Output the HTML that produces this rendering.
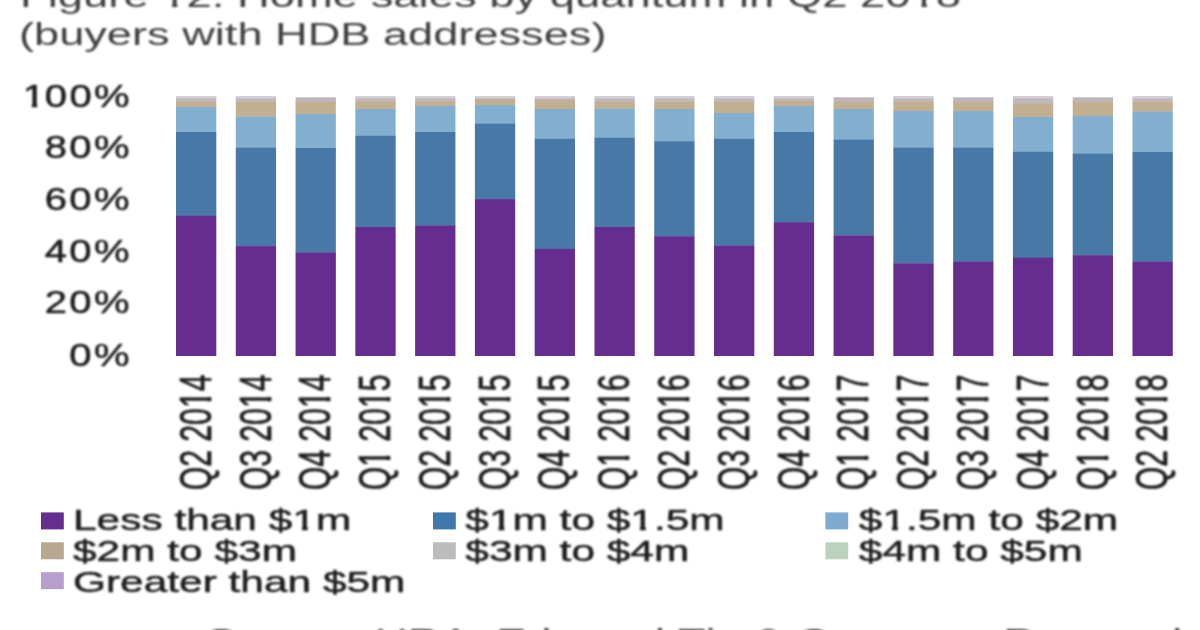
<!DOCTYPE html>
<html lang="en">
<head>
<meta charset="utf-8">
<title>Figure 12: Home sales by quantum in Q2 2018</title>
<style>
html,body{margin:0;padding:0;background:#fff;}
body{width:1200px;height:630px;overflow:hidden;}
svg{display:block;}
text{font-family:"Liberation Sans", Arial, Helvetica, sans-serif;fill:#1c1c1c;font-kerning:none;font-variant-ligatures:none;stroke:#1c1c1c;stroke-width:0.5px;}
.c{fill:#fff;}
</style>
</head>
<body>
<svg width="1200" height="630" viewBox="0 0 1200 630">
<defs><filter id="soft" color-interpolation-filters="sRGB" x="-5%" y="-5%" width="110%" height="110%"><feGaussianBlur stdDeviation="0.8"/></filter><filter id="soft2" color-interpolation-filters="sRGB" x="-5%" y="-5%" width="110%" height="110%"><feGaussianBlur stdDeviation="0.55"/></filter></defs>
<rect x="0" y="0" width="1200" height="630" fill="#ffffff"/>
<g id="title" filter="url(#soft)">
<g transform="translate(20.0,7.0) scale(1.474,1)"><text font-size="30.8" text-anchor="start" style="fill:#3e3e3e;stroke:#3e3e3e;stroke-width:0.01px">Figure 12: Home sales by quantum in Q2 2018</text><rect class="c" x="96.78" y="-4.31" width="6.32" height="6.47"/><rect class="c" x="106.83" y="-4.31" width="5.97" height="6.47"/><rect class="c" x="605.27" y="-4.31" width="6.32" height="6.47"/><rect class="c" x="615.32" y="-4.31" width="5.97" height="6.47"/></g>
<g transform="translate(19.0,45.3) scale(1.467,1)"><text font-size="30.8" text-anchor="start" style="fill:#3e3e3e;stroke:#3e3e3e;stroke-width:0.01px">(buyers with HDB addresses)</text></g>
</g>
<g id="yaxis" filter="url(#soft)">
<g transform="translate(132.0,365.8) scale(1.270,1)"><text font-size="31.5" text-anchor="end" style="letter-spacing:1.9px">0%</text></g>
<g transform="translate(132.0,312.5) scale(1.270,1)"><text font-size="31.5" text-anchor="end" style="letter-spacing:1.9px">20%</text></g>
<g transform="translate(132.0,261.9) scale(1.270,1)"><text font-size="31.5" text-anchor="end" style="letter-spacing:1.9px">40%</text></g>
<g transform="translate(132.0,209.6) scale(1.270,1)"><text font-size="31.5" text-anchor="end" style="letter-spacing:1.9px">60%</text></g>
<g transform="translate(132.0,157.7) scale(1.270,1)"><text font-size="31.5" text-anchor="end" style="letter-spacing:1.9px">80%</text></g>
<g transform="translate(132.0,107.3) scale(1.270,1)"><text x="-88.16" font-size="31.5" text-anchor="start" style="letter-spacing:1.9px"><tspan dx="2.1">1</tspan><tspan dx="-2.1">0</tspan>0%</text><g transform="translate(-86.06,0)"><rect class="c" x="0.94" y="-4.41" width="6.23" height="6.61"/><rect class="c" x="11.45" y="-4.41" width="5.87" height="6.61"/></g></g>
</g>
<g id="bars" filter="url(#soft2)">
<g transform="translate(176.00,0)"><rect x="0" y="96.0" width="40.3" height="2.5" fill="#D3CED8"/><rect x="0" y="98.2" width="40.3" height="3.9" fill="#C0B8BA"/><rect x="0" y="101.8" width="40.3" height="5.5" fill="#C2AF92"/><rect x="0" y="107.0" width="40.3" height="25.3" fill="#82AED0"/><rect x="0" y="132.0" width="40.3" height="84.1" fill="#4878A6"/><rect x="0" y="215.8" width="40.3" height="140.2" fill="#662D91"/></g>
<g transform="translate(235.78,0)"><rect x="0" y="96.0" width="40.3" height="2.5" fill="#D3CED8"/><rect x="0" y="98.2" width="40.3" height="4.1" fill="#C0B8BA"/><rect x="0" y="102.0" width="40.3" height="14.8" fill="#C2AF92"/><rect x="0" y="116.5" width="40.3" height="31.5" fill="#82AED0"/><rect x="0" y="147.7" width="40.3" height="98.7" fill="#4878A6"/><rect x="0" y="246.1" width="40.3" height="109.9" fill="#662D91"/></g>
<g transform="translate(295.56,0)"><rect x="0" y="97.3" width="40.3" height="5.0" fill="#BFB5B8"/><rect x="0" y="102.0" width="40.3" height="12.3" fill="#C2AF92"/><rect x="0" y="114.0" width="40.3" height="34.3" fill="#82AED0"/><rect x="0" y="148.0" width="40.3" height="104.7" fill="#4878A6"/><rect x="0" y="252.4" width="40.3" height="103.6" fill="#662D91"/></g>
<g transform="translate(355.34,0)"><rect x="0" y="96.0" width="40.3" height="2.5" fill="#D3CED8"/><rect x="0" y="98.2" width="40.3" height="3.3" fill="#C0B8BA"/><rect x="0" y="101.2" width="40.3" height="8.1" fill="#C2AF92"/><rect x="0" y="109.0" width="40.3" height="27.1" fill="#82AED0"/><rect x="0" y="135.8" width="40.3" height="91.5" fill="#4878A6"/><rect x="0" y="227.0" width="40.3" height="129.0" fill="#662D91"/></g>
<g transform="translate(415.12,0)"><rect x="0" y="96.0" width="40.3" height="2.5" fill="#D3CED8"/><rect x="0" y="98.2" width="40.3" height="3.3" fill="#C0B8BA"/><rect x="0" y="101.2" width="40.3" height="5.1" fill="#C2AF92"/><rect x="0" y="106.0" width="40.3" height="26.3" fill="#82AED0"/><rect x="0" y="132.0" width="40.3" height="93.9" fill="#4878A6"/><rect x="0" y="225.6" width="40.3" height="130.4" fill="#662D91"/></g>
<g transform="translate(474.90,0)"><rect x="0" y="96.0" width="40.3" height="2.5" fill="#D3CED8"/><rect x="0" y="98.2" width="40.3" height="1.1" fill="#C0B8BA"/><rect x="0" y="99.0" width="40.3" height="6.3" fill="#C2AF92"/><rect x="0" y="105.0" width="40.3" height="18.9" fill="#82AED0"/><rect x="0" y="123.6" width="40.3" height="75.8" fill="#4878A6"/><rect x="0" y="199.1" width="40.3" height="156.9" fill="#662D91"/></g>
<g transform="translate(534.68,0)"><rect x="0" y="96.0" width="40.3" height="2.5" fill="#D3CED8"/><rect x="0" y="98.2" width="40.3" height="2.1" fill="#C0B8BA"/><rect x="0" y="100.0" width="40.3" height="9.3" fill="#C2AF92"/><rect x="0" y="109.0" width="40.3" height="30.1" fill="#82AED0"/><rect x="0" y="138.8" width="40.3" height="110.4" fill="#4878A6"/><rect x="0" y="248.9" width="40.3" height="107.1" fill="#662D91"/></g>
<g transform="translate(594.46,0)"><rect x="0" y="96.0" width="40.3" height="2.5" fill="#D3CED8"/><rect x="0" y="98.2" width="40.3" height="4.1" fill="#C0B8BA"/><rect x="0" y="102.0" width="40.3" height="6.8" fill="#C2AF92"/><rect x="0" y="108.5" width="40.3" height="29.6" fill="#82AED0"/><rect x="0" y="137.8" width="40.3" height="89.5" fill="#4878A6"/><rect x="0" y="227.0" width="40.3" height="129.0" fill="#662D91"/></g>
<g transform="translate(654.24,0)"><rect x="0" y="96.0" width="40.3" height="2.5" fill="#D3CED8"/><rect x="0" y="98.2" width="40.3" height="3.5" fill="#C0B8BA"/><rect x="0" y="101.4" width="40.3" height="7.9" fill="#C2AF92"/><rect x="0" y="109.0" width="40.3" height="32.5" fill="#82AED0"/><rect x="0" y="141.2" width="40.3" height="95.3" fill="#4878A6"/><rect x="0" y="236.2" width="40.3" height="119.8" fill="#662D91"/></g>
<g transform="translate(714.02,0)"><rect x="0" y="96.0" width="40.3" height="2.5" fill="#D3CED8"/><rect x="0" y="98.2" width="40.3" height="4.1" fill="#C0B8BA"/><rect x="0" y="102.0" width="40.3" height="11.3" fill="#C2AF92"/><rect x="0" y="113.0" width="40.3" height="26.1" fill="#82AED0"/><rect x="0" y="138.8" width="40.3" height="107.1" fill="#4878A6"/><rect x="0" y="245.6" width="40.3" height="110.4" fill="#662D91"/></g>
<g transform="translate(773.80,0)"><rect x="0" y="96.0" width="40.3" height="2.5" fill="#D3CED8"/><rect x="0" y="98.2" width="40.3" height="2.7" fill="#C0B8BA"/><rect x="0" y="100.6" width="40.3" height="5.7" fill="#C2AF92"/><rect x="0" y="106.0" width="40.3" height="26.3" fill="#82AED0"/><rect x="0" y="132.0" width="40.3" height="90.5" fill="#4878A6"/><rect x="0" y="222.2" width="40.3" height="133.8" fill="#662D91"/></g>
<g transform="translate(833.58,0)"><rect x="0" y="97.3" width="40.3" height="5.0" fill="#BFB5B8"/><rect x="0" y="102.0" width="40.3" height="7.3" fill="#C2AF92"/><rect x="0" y="109.0" width="40.3" height="30.8" fill="#82AED0"/><rect x="0" y="139.5" width="40.3" height="96.2" fill="#4878A6"/><rect x="0" y="235.4" width="40.3" height="120.6" fill="#662D91"/></g>
<g transform="translate(893.36,0)"><rect x="0" y="96.0" width="40.3" height="2.5" fill="#D3CED8"/><rect x="0" y="98.2" width="40.3" height="4.1" fill="#C0B8BA"/><rect x="0" y="102.0" width="40.3" height="9.3" fill="#C2AF92"/><rect x="0" y="111.0" width="40.3" height="37.0" fill="#82AED0"/><rect x="0" y="147.7" width="40.3" height="115.9" fill="#4878A6"/><rect x="0" y="263.3" width="40.3" height="92.7" fill="#662D91"/></g>
<g transform="translate(953.14,0)"><rect x="0" y="97.3" width="40.3" height="5.0" fill="#BFB5B8"/><rect x="0" y="102.0" width="40.3" height="9.3" fill="#C2AF92"/><rect x="0" y="111.0" width="40.3" height="37.0" fill="#82AED0"/><rect x="0" y="147.7" width="40.3" height="114.2" fill="#4878A6"/><rect x="0" y="261.6" width="40.3" height="94.4" fill="#662D91"/></g>
<g transform="translate(1012.92,0)"><rect x="0" y="96.0" width="40.3" height="2.5" fill="#D3CED8"/><rect x="0" y="98.2" width="40.3" height="6.1" fill="#C0B8BA"/><rect x="0" y="104.0" width="40.3" height="13.3" fill="#C2AF92"/><rect x="0" y="117.0" width="40.3" height="35.1" fill="#82AED0"/><rect x="0" y="151.8" width="40.3" height="106.2" fill="#4878A6"/><rect x="0" y="257.7" width="40.3" height="98.3" fill="#662D91"/></g>
<g transform="translate(1072.70,0)"><rect x="0" y="97.3" width="40.3" height="5.0" fill="#BFB5B8"/><rect x="0" y="102.0" width="40.3" height="14.3" fill="#C2AF92"/><rect x="0" y="116.0" width="40.3" height="37.9" fill="#82AED0"/><rect x="0" y="153.6" width="40.3" height="101.9" fill="#4878A6"/><rect x="0" y="255.2" width="40.3" height="100.8" fill="#662D91"/></g>
<g transform="translate(1132.48,0)"><rect x="0" y="96.0" width="40.3" height="2.5" fill="#D3CED8"/><rect x="0" y="98.2" width="40.3" height="3.7" fill="#C0B8BA"/><rect x="0" y="101.6" width="40.3" height="10.2" fill="#C2AF92"/><rect x="0" y="111.5" width="40.3" height="40.8" fill="#82AED0"/><rect x="0" y="152.0" width="40.3" height="109.9" fill="#4878A6"/><rect x="0" y="261.6" width="40.3" height="94.4" fill="#662D91"/></g>
</g>
<g id="xaxis" filter="url(#soft)">
<g transform="translate(210.8,374.5) rotate(-90) scale(1,1.484)"><text font-size="30.2" text-anchor="end" style="stroke-width:0.5px">Q2 2014</text><rect class="c" x="-32.69" y="-4.23" width="5.94" height="6.34"/><rect class="c" x="-22.58" y="-4.23" width="5.60" height="6.34"/></g>
<g transform="translate(270.5,374.5) rotate(-90) scale(1,1.484)"><text font-size="30.2" text-anchor="end" style="stroke-width:0.5px">Q3 2014</text><rect class="c" x="-32.69" y="-4.23" width="5.94" height="6.34"/><rect class="c" x="-22.58" y="-4.23" width="5.60" height="6.34"/></g>
<g transform="translate(330.3,374.5) rotate(-90) scale(1,1.484)"><text font-size="30.2" text-anchor="end" style="stroke-width:0.5px">Q4 2014</text><rect class="c" x="-32.69" y="-4.23" width="5.94" height="6.34"/><rect class="c" x="-22.58" y="-4.23" width="5.60" height="6.34"/></g>
<g transform="translate(390.1,374.5) rotate(-90) scale(1,1.484)"><text font-size="30.2" text-anchor="end" style="stroke-width:0.5px">Q1 2015</text><rect class="c" x="-91.46" y="-4.23" width="5.94" height="6.34"/><rect class="c" x="-81.36" y="-4.23" width="5.60" height="6.34"/><rect class="c" x="-32.69" y="-4.23" width="5.94" height="6.34"/><rect class="c" x="-22.58" y="-4.23" width="5.60" height="6.34"/></g>
<g transform="translate(449.9,374.5) rotate(-90) scale(1,1.484)"><text font-size="30.2" text-anchor="end" style="stroke-width:0.5px">Q2 2015</text><rect class="c" x="-32.69" y="-4.23" width="5.94" height="6.34"/><rect class="c" x="-22.58" y="-4.23" width="5.60" height="6.34"/></g>
<g transform="translate(509.6,374.5) rotate(-90) scale(1,1.484)"><text font-size="30.2" text-anchor="end" style="stroke-width:0.5px">Q3 2015</text><rect class="c" x="-32.69" y="-4.23" width="5.94" height="6.34"/><rect class="c" x="-22.58" y="-4.23" width="5.60" height="6.34"/></g>
<g transform="translate(569.4,374.5) rotate(-90) scale(1,1.484)"><text font-size="30.2" text-anchor="end" style="stroke-width:0.5px">Q4 2015</text><rect class="c" x="-32.69" y="-4.23" width="5.94" height="6.34"/><rect class="c" x="-22.58" y="-4.23" width="5.60" height="6.34"/></g>
<g transform="translate(629.2,374.5) rotate(-90) scale(1,1.484)"><text font-size="30.2" text-anchor="end" style="stroke-width:0.5px">Q1 2016</text><rect class="c" x="-91.46" y="-4.23" width="5.94" height="6.34"/><rect class="c" x="-81.36" y="-4.23" width="5.60" height="6.34"/><rect class="c" x="-32.69" y="-4.23" width="5.94" height="6.34"/><rect class="c" x="-22.58" y="-4.23" width="5.60" height="6.34"/></g>
<g transform="translate(689.0,374.5) rotate(-90) scale(1,1.484)"><text font-size="30.2" text-anchor="end" style="stroke-width:0.5px">Q2 2016</text><rect class="c" x="-32.69" y="-4.23" width="5.94" height="6.34"/><rect class="c" x="-22.58" y="-4.23" width="5.60" height="6.34"/></g>
<g transform="translate(748.8,374.5) rotate(-90) scale(1,1.484)"><text font-size="30.2" text-anchor="end" style="stroke-width:0.5px">Q3 2016</text><rect class="c" x="-32.69" y="-4.23" width="5.94" height="6.34"/><rect class="c" x="-22.58" y="-4.23" width="5.60" height="6.34"/></g>
<g transform="translate(808.5,374.5) rotate(-90) scale(1,1.484)"><text font-size="30.2" text-anchor="end" style="stroke-width:0.5px">Q4 2016</text><rect class="c" x="-32.69" y="-4.23" width="5.94" height="6.34"/><rect class="c" x="-22.58" y="-4.23" width="5.60" height="6.34"/></g>
<g transform="translate(868.3,374.5) rotate(-90) scale(1,1.484)"><text font-size="30.2" text-anchor="end" style="stroke-width:0.5px">Q1 2017</text><rect class="c" x="-91.46" y="-4.23" width="5.94" height="6.34"/><rect class="c" x="-81.36" y="-4.23" width="5.60" height="6.34"/><rect class="c" x="-32.69" y="-4.23" width="5.94" height="6.34"/><rect class="c" x="-22.58" y="-4.23" width="5.60" height="6.34"/></g>
<g transform="translate(928.1,374.5) rotate(-90) scale(1,1.484)"><text font-size="30.2" text-anchor="end" style="stroke-width:0.5px">Q2 2017</text><rect class="c" x="-32.69" y="-4.23" width="5.94" height="6.34"/><rect class="c" x="-22.58" y="-4.23" width="5.60" height="6.34"/></g>
<g transform="translate(987.9,374.5) rotate(-90) scale(1,1.484)"><text font-size="30.2" text-anchor="end" style="stroke-width:0.5px">Q3 2017</text><rect class="c" x="-32.69" y="-4.23" width="5.94" height="6.34"/><rect class="c" x="-22.58" y="-4.23" width="5.60" height="6.34"/></g>
<g transform="translate(1047.7,374.5) rotate(-90) scale(1,1.484)"><text font-size="30.2" text-anchor="end" style="stroke-width:0.5px">Q4 2017</text><rect class="c" x="-32.69" y="-4.23" width="5.94" height="6.34"/><rect class="c" x="-22.58" y="-4.23" width="5.60" height="6.34"/></g>
<g transform="translate(1107.5,374.5) rotate(-90) scale(1,1.484)"><text font-size="30.2" text-anchor="end" style="stroke-width:0.5px">Q1 2018</text><rect class="c" x="-91.46" y="-4.23" width="5.94" height="6.34"/><rect class="c" x="-81.36" y="-4.23" width="5.60" height="6.34"/><rect class="c" x="-32.69" y="-4.23" width="5.94" height="6.34"/><rect class="c" x="-22.58" y="-4.23" width="5.60" height="6.34"/></g>
<g transform="translate(1167.2,374.5) rotate(-90) scale(1,1.484)"><text font-size="30.2" text-anchor="end" style="stroke-width:0.5px">Q2 2018</text><rect class="c" x="-32.69" y="-4.23" width="5.94" height="6.34"/><rect class="c" x="-22.58" y="-4.23" width="5.60" height="6.34"/></g>
</g>
<g id="legend" filter="url(#soft)">
<g transform="translate(73.0,530.4) scale(1.400,1)"><text font-size="30.3" text-anchor="start">Less than $1m</text><rect class="c" x="157.57" y="-4.24" width="5.96" height="6.36"/><rect class="c" x="167.71" y="-4.24" width="5.62" height="6.36"/></g>
<g transform="translate(465.3,530.4) scale(1.400,1)"><text font-size="30.3" text-anchor="start">$1m to $1.5m</text><rect class="c" x="17.76" y="-4.24" width="5.96" height="6.36"/><rect class="c" x="27.90" y="-4.24" width="5.62" height="6.36"/><rect class="c" x="118.81" y="-4.24" width="5.96" height="6.36"/><rect class="c" x="128.95" y="-4.24" width="5.62" height="6.36"/></g>
<g transform="translate(858.8,530.4) scale(1.400,1)"><text font-size="30.3" text-anchor="start">$1.5m to $2m</text><rect class="c" x="17.76" y="-4.24" width="5.96" height="6.36"/><rect class="c" x="27.90" y="-4.24" width="5.62" height="6.36"/></g>
<g transform="translate(73.0,561.3) scale(1.400,1)"><text font-size="30.3" text-anchor="start">$2m to $3m</text></g>
<g transform="translate(465.3,561.3) scale(1.400,1)"><text font-size="30.3" text-anchor="start">$3m to $4m</text></g>
<g transform="translate(858.8,561.3) scale(1.400,1)"><text font-size="30.3" text-anchor="start">$4m to $5m</text></g>
<g transform="translate(73.0,592.3) scale(1.400,1)"><text font-size="30.3" text-anchor="start">Greater than $5m</text></g>
</g>
<g id="swatches" filter="url(#soft2)">
<rect x="41.0" y="512.4" width="22.8" height="17" fill="#662D91"/>
<rect x="433.0" y="512.4" width="22.8" height="17" fill="#3F78AE"/>
<rect x="825.4" y="512.4" width="22.8" height="17" fill="#7FAAD2"/>
<rect x="41.0" y="542.3" width="22.8" height="17" fill="#B9A88F"/>
<rect x="433.0" y="542.3" width="22.8" height="17" fill="#BDBBBD"/>
<rect x="825.4" y="542.3" width="22.8" height="17" fill="#B9D3BF"/>
<rect x="41.0" y="572.2" width="22.8" height="17" fill="#B79FCC"/>
</g>
<g id="source" filter="url(#soft)">
<g transform="translate(206.0,651.1) scale(1.474,1)"><text font-size="30.8" text-anchor="start" style="fill:#3e3e3e;stroke:#3e3e3e;stroke-width:0.01px">Source: URA, Edmund Tie &amp; Company Research</text></g>
</g>
</svg>
</body>
</html>
